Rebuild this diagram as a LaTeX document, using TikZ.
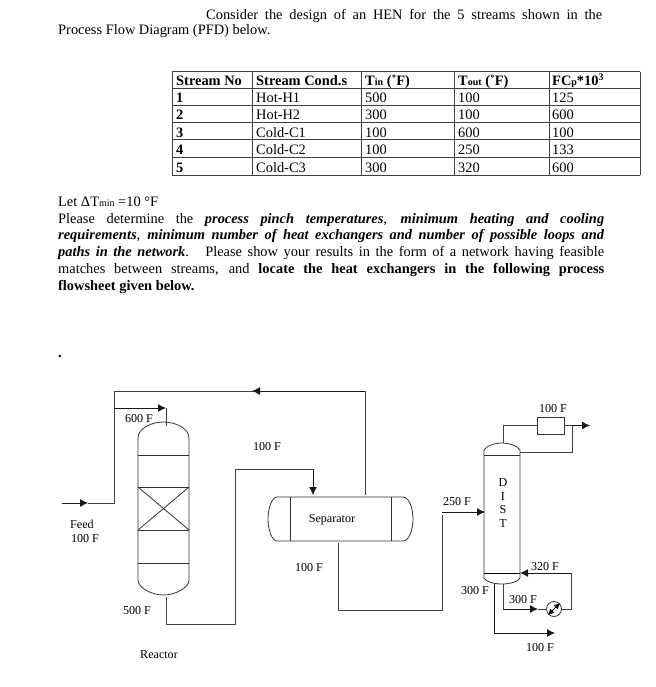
\documentclass[tikz,border=0pt]{standalone}
\usepackage{fontspec}
\setmainfont{Liberation Serif}
\usetikzlibrary{arrows.meta,calc}
\tikzset{
  pipe/.style={draw=black!75,line width=0.9pt},
  flow/.style={draw=black!90,line width=0.9pt,-{Latex[length=8pt,width=8pt]}},
  equip/.style={draw=black!80,line width=0.8pt},
  grid/.style={draw=black!75,line width=1pt},
  lbl/.style={inner sep=0pt,font=\fontsize{12.1}{14}\selectfont},
  txt/.style={inner sep=0pt,anchor=base west,font=\fontsize{14.4}{16}\selectfont},
  cell/.style={inner sep=0pt,anchor=base west,font=\fontsize{14.4}{16}\selectfont},
  box/.style={draw=black!80,line width=0.8pt,inner sep=0pt,minimum width=#1}
}
\newcommand{\spreadline}[2]{\makebox[#1pt][s]{#2}}
\newcommand{\bi}[1]{\textbf{\textit{#1}}}
\begin{document}
\begin{tikzpicture}[x=1pt,y=-1pt]
\useasboundingbox (0,0) rectangle (655,687);
% intro
\node[txt] (l1) at (206,19.5) {\spreadline{396}{Consider the design of an HEN for the 5 streams shown in the}};
\node[txt] (l2) at (58,35) {Process Flow Diagram (PFD) below.};
% table grid
\foreach \yy in {72,89,106,123,140,158,175} \draw[grid] (172,\yy) -- (640,\yy);
\foreach \xx in {172,252,361,454,549,640} \draw[grid] (\xx,72) -- (\xx,175);
% header
\node[cell] (h1) at (176,86) {\textbf{Stream No}};
\node[cell] (h2) at (256,86) {\textbf{Stream Cond.s}};
\node[cell] (h3) at (365,86) {\textbf{T{\fontsize{10}{10}\selectfont in} (˚F)}};
\node[cell] (h4) at (458,86) {\textbf{T{\fontsize{10}{10}\selectfont out} (˚F)}};
\node[cell] (h5) at (552,86) {\textbf{FC{\fontsize{10}{10}\selectfont p}*10\textsuperscript{3}}};
% rows
\node[cell] (r1a) at (176,103) {\textbf{1}};
\node[cell] (r1b) at (256,103) {Hot-H1};
\node[cell] (r1c) at (365,103) {500};
\node[cell] (r1d) at (458,103) {100};
\node[cell] (r1e) at (552,103) {125};
\node[cell] (r2a) at (176,120) {\textbf{2}};
\node[cell] (r2b) at (256,120) {Hot-H2};
\node[cell] (r2c) at (365,120) {300};
\node[cell] (r2d) at (458,120) {100};
\node[cell] (r2e) at (552,120) {600};
\node[cell] (r3a) at (176,137.5) {\textbf{3}};
\node[cell] (r3b) at (256,137.5) {Cold-C1};
\node[cell] (r3c) at (365,137.5) {100};
\node[cell] (r3d) at (458,137.5) {600};
\node[cell] (r3e) at (552,137.5) {100};
\node[cell] (r4a) at (176,154.5) {\textbf{4}};
\node[cell] (r4b) at (256,154.5) {Cold-C2};
\node[cell] (r4c) at (365,154.5) {100};
\node[cell] (r4d) at (458,154.5) {250};
\node[cell] (r4e) at (552,154.5) {133};
\node[cell] (r5a) at (176,172.5) {\textbf{5}};
\node[cell] (r5b) at (256,172.5) {Cold-C3};
\node[cell] (r5c) at (365,172.5) {300};
\node[cell] (r5d) at (458,172.5) {320};
\node[cell] (r5e) at (552,172.5) {600};
% paragraph
\node[txt] (p0) at (58,206.5) {Let ΔT{\fontsize{10}{10}\selectfont min} =10 °F};
\node[txt] (p1) at (58,223) {\spreadline{546}{Please determine the \bi{process pinch temperatures}, \bi{minimum heating and cooling}}};
\node[txt] (p2) at (58,239.5) {\spreadline{546}{\bi{requirements}, \bi{minimum number of heat exchangers and number of possible loops and}}};
\node[txt] (p3) at (58,256.5) {\spreadline{546}{\bi{paths in the network}. \ Please show your results in the form of a network having feasible}};
\node[txt] (p4) at (58,273.5) {\spreadline{546}{matches between streams, and \textbf{locate the heat exchangers in the following process}}};
\node[txt] (p5) at (58,290) {\textbf{flowsheet given below.}};
\node[txt] (dot) at (58,357) {\textbf{.}};
% ---- reactor
\coordinate (rtl) at (138,438); \coordinate (rtr) at (189,438);
\coordinate (rbl) at (138,580); \coordinate (rbr) at (189,580);
\coordinate (rin) at (166,426); \coordinate (rout) at (166,597);
\draw[equip] (rbl) -- (rtl) .. controls (138,428) and (152,422) .. (163.5,422)
   .. controls (175,422) and (189,428) .. (rtr) -- (rbr)
   .. controls (189,588) and (175,595) .. (163.5,595)
   .. controls (152,595) and (138,588) .. (rbl);
\draw[equip] (138,455) -- (189,455) (138,563) -- (189,563);
\draw[equip] (138,487) -- (189,487) (138,530) -- (189,530);
\draw[equip] (138,487) -- (189,530) (189,487) -- (138,530);
% ---- separator
\coordinate (stl) at (277,497); \coordinate (str) at (403,497);
\coordinate (sbl) at (277,541); \coordinate (sbr) at (403,541);
\draw[equip] (stl) -- (str) .. controls (409,497) and (413,508) .. (413,519)
   .. controls (413,530) and (409,541) .. (sbr) -- (sbl)
   .. controls (272,541) and (268,530) .. (268,519)
   .. controls (268,508) and (272,497) .. (stl);
\draw[equip] (290,497) -- (290,541) (391,497) -- (391,541);
% ---- distillation column
\coordinate (dtl) at (484,450); \coordinate (dtr) at (520,450);
\coordinate (dbl) at (484,578); \coordinate (dbr) at (520,578);
\draw[equip] (dbl) -- (dtl) .. controls (486,446) and (495,443) .. (502,443)
   .. controls (509,443) and (518,446) .. (dtr) -- (dbr)
   .. controls (518,582) and (509,584) .. (502,584)
   .. controls (495,584) and (486,582) .. (dbl);
\draw[equip] (484,455) -- (520,455);
\draw[pipe,draw=black] (484,573) -- (520,573);
% ---- condenser, reboiler
\node[box=27pt,minimum height=17pt] (cond) at (550.5,425.5) {};
\node[draw=black!80,line width=0.8pt,circle,minimum size=15pt,inner sep=0pt] (reb) at (554,609) {};
\draw[black,line width=1pt,{Latex[length=6pt,width=6pt]}-{Latex[length=6pt,width=6pt]}] ($(reb.225)+(-0.5,0.5)$) -- ($(reb.45)+(0.5,-0.5)$);
% ---- pipe coordinates
\coordinate (f0) at (62,503); \coordinate (f1) at (88,503); \coordinate (f2) at (114,503);
\coordinate (f3) at (114,408); \coordinate (f4) at (166,408);
\coordinate (t1) at (114,391); \coordinate (t2) at (252,391); \coordinate (t3) at (365,391);
\coordinate (t4) at (365,495);
\coordinate (b1) at (166,624); \coordinate (b2) at (235,624); \coordinate (b3) at (235,469);
\coordinate (b4) at (313,469); \coordinate (b5) at (313,495);
\coordinate (s1) at (338,543); \coordinate (s2) at (338,610); \coordinate (s3) at (442,610);
\coordinate (s4) at (442,515);
\coordinate (d0) at (442,512); \coordinate (d1) at (485,512);
\coordinate (o1) at (503,443); \coordinate (o2) at (503,425.5);
\coordinate (o3) at (572,425.5); \coordinate (o4) at (590,425.5);
\coordinate (o5) at (572,452); \coordinate (o6) at (520,452);
\coordinate (w1) at (494,584); \coordinate (w2) at (494,633); \coordinate (w3) at (555,633);
\coordinate (v1) at (503,584); \coordinate (v2) at (503,609); \coordinate (v3) at (538,609);
\coordinate (u1) at (571,609); \coordinate (u2) at (571,573); \coordinate (u3) at (520,573);
% ---- connectors
\draw[flow] (f0) -- (f1);
\draw[pipe] (f1) -- (f2) -- (t1) -- (t3) -- (t4);
\draw[flow] (t3) -- (t2);
\draw[flow] (f3) -- (f4);
\draw[pipe] (f4) -- (rin);
\draw[pipe] (rout) -- (b1) -- (b2) -- (b3) -- (b4);
\draw[flow] (b4) -- (b5);
\draw[pipe] (s1) -- (s2) -- (s3) -- (s4);
\draw[flow] (d0) -- (d1);
\draw[pipe] (o1) -- (o2) -- (cond.west);
\draw[pipe] (cond.east) -- (o3);
\draw[flow] (o3) -- (o4);
\draw[pipe] (o3) -- (o5) -- (o6);
\draw[flow] (w1) -- (w2) -- (w3);
\draw[pipe] (v1) -- (v2);
\draw[flow] (v2) -- (v3);
\draw[pipe] (v3) -- (reb.west);
\draw[pipe] (reb.east) -- (u1) -- (u2);
\draw[flow] (u2) -- (u3);
% ---- labels
\node[lbl] (a1) at (139,418.5) {600 F};
\node[lbl] (a2) at (82,524.5) {Feed};
\node[lbl] (a3) at (85,538.5) {100 F};
\node[lbl] (a4) at (137,610.5) {500 F};
\node[lbl] (a5) at (159,654.5) {Reactor};
\node[lbl] (a6) at (267,446.5) {100 F};
\node[lbl] (a7) at (332,519.5) {Separator};
\node[lbl] (a8) at (309,567.5) {100 F};
\node[lbl] (a9) at (457,501.5) {250 F};
\node[lbl] (a10) at (553,408.5) {100 F};
\node[lbl] (a11) at (503,483) {D};
\node[lbl] (a12) at (503,497) {I};
\node[lbl] (a13) at (503,510) {S};
\node[lbl] (a14) at (503,524) {T};
\node[lbl] (a15) at (545,567) {320 F};
\node[lbl] (a16) at (475,591) {300 F};
\node[lbl] (a17) at (523,600) {300 F};
\node[lbl] (a18) at (540,648) {100 F};
\end{tikzpicture}
\end{document}
